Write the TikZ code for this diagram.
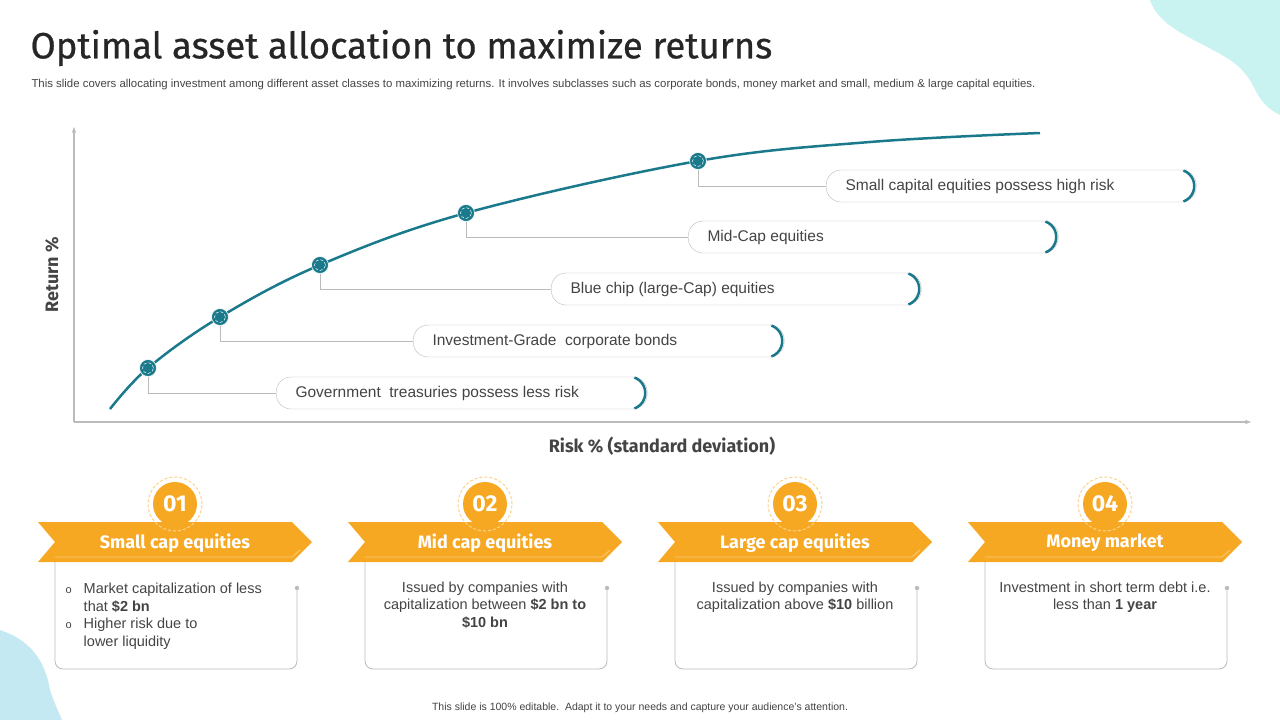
\documentclass[tikz,border=0pt]{standalone}
\usepackage{fontspec}
\setmainfont{Liberation Sans}
\newfontfamily\titlefont{Fira Sans}
\usetikzlibrary{arrows.meta}
\definecolor{teal}{HTML}{1A7A8C}
\definecolor{org}{HTML}{F7A823}
\definecolor{lorg}{HTML}{FBD38A}
\definecolor{gtxt}{HTML}{444444}
\definecolor{gline}{HTML}{BBBBBB}
\definecolor{blob1}{HTML}{C8F3F0}
\definecolor{blob2}{HTML}{C5E9F3}
\tikzset{
 pill/.style={draw=gline,rounded corners=15pt,minimum height=32pt,fill=white,inner sep=0pt},
 pilltxt/.style={font=\fontsize{15.5}{18}\selectfont,text=gtxt,anchor=west},
 conn/.style={draw=gline,line width=0.8pt},
 dot/.style={circle,fill=teal,minimum size=17pt,inner sep=0pt,draw=white,line width=0.6pt},
 cbox/.style={draw=gline,rounded corners=8pt,line width=0.8pt},
 btxt/.style={font=\fontsize{14.5}{17.5}\selectfont,text=gtxt,align=center},
 bannertxt/.style={font=\titlefont\bfseries\fontsize{18}{20}\selectfont,text=white},
}
\begin{document}
\begin{tikzpicture}[x=1pt,y=-1pt]
\useasboundingbox (0,0) rectangle (1280,720);
\fill[white] (0,0) rectangle (1280,720);
% blobs
\fill[blob1] (1150,0) .. controls (1160,30) and (1200,40) .. (1230,60) .. controls (1260,80) and (1250,100) .. (1280,115) -- (1280,0) -- cycle;
\fill[blob2] (0,630) .. controls (30,640) and (45,660) .. (50,690) .. controls (55,705) and (60,715) .. (62,720) -- (0,720) -- cycle;
% title
\node[anchor=west,font=\titlefont\fontsize{36.5}{40}\selectfont,text=black!85] (title) at (27,48) {\addfontfeature{FakeBold=0.6}Optimal asset allocation to maximize returns};
\node[anchor=west,font=\fontsize{11.4}{13}\selectfont,text=gtxt] (sub) at (28,85) {This slide covers allocating investment among different asset classes to maximizing returns. It involves subclasses such as corporate bonds, money market and small, medium \& large capital equities.};
% axes
\coordinate (o) at (74,422);
\coordinate (ytop) at (74,127);
\coordinate (xend) at (1251,422);
\draw[gline,line width=1.2pt,-{Stealth[length=6pt]}] (o) -- (ytop);
\draw[gline,line width=1.2pt,-{Stealth[length=6pt]}] (o) -- (xend);
\node[rotate=90,font=\titlefont\bfseries\fontsize{18}{20}\selectfont,text=gtxt] (ylab) at (52,275) {Return \%};
\node[font=\titlefont\bfseries\fontsize{18}{20}\selectfont,text=gtxt] (xlab) at (662,446) {Risk \% (standard deviation)};
% curve
\draw[teal,line width=2.5pt] plot[smooth,tension=0.6] coordinates {(110,409) (148,368) (220,317) (320,265) (466,213) (698,161) (870,142) (1040,133)};
% pills
\foreach \n/\xa/\xb/\yy/\t in {p1/276/647/393/{Government\ \ treasuries possess less risk},p2/413/784/341/{Investment-Grade\ \ corporate bonds},p3/551/921/289/{Blue chip (large-Cap) equities},p4/688/1058/237/{Mid-Cap equities},p5/826/1196/186/{Small capital equities possess high risk}}{
 \node[pill,minimum width={\xb-\xa},anchor=west] (\n) at (\xa,\yy) {};
 \draw[teal,line width=2.5pt] ([xshift=-13pt,yshift=15.5pt]\n.east) arc[start angle=70,end angle=-70,radius=16.5pt];
 \node[pilltxt] at ([xshift=16pt]\n.west) {\t};
}
% dots and connectors
\foreach \d/\x/\y/\p in {d1/148/368/p1,d2/220/317/p2,d3/320/265/p3,d4/466/213/p4,d5/698/161/p5}{
 \draw[conn] (\x,\y) |- (\p.west);
 \node[dot] (\d) at (\x,\y) {};
 \draw[white,densely dashed,line width=0.5pt] (\d) circle (5.5pt);
}
% bottom cards
\foreach \i/\num/\ttl in {0/01/Small cap equities,1/02/Mid cap equities,2/03/Large cap equities,3/04/Money market}{
 \begin{scope}[xshift=\i*310pt]
 \fill[org] (38,522) -- (292,522) -- (312,542) -- (292,562) -- (38,562) -- (55,542) -- cycle;
 \draw[white,opacity=0.4,line width=0.8pt] (55,557) -- (292,557) -- (300,550);
 \node[bannertxt] (bt\i) at (175,543) {\ttl};
 \draw[lorg,densely dashed,line width=1pt] (175,504) circle (27pt);
 \node[circle,fill=org,minimum size=44pt,inner sep=0pt,font=\titlefont\bfseries\fontsize{23}{25}\selectfont,text=white] (c\i) at (175,504) {\num};
 \draw[cbox] (55,562) -- (55,669) -- (297,669) -- (297,588);
 \fill[gline] (297,588) circle (2.2pt);
 \end{scope}
}
\node[btxt,align=left,anchor=north west] (t1) at (62,578) {\begin{tabular}{@{}l@{\ \ \ }l@{}}\fontsize{11}{10}\selectfont o & Market capitalization of less\\ & that \textbf{\$2 bn}\\ \fontsize{11}{10}\selectfont o & Higher risk due to\\ & lower liquidity\end{tabular}};
\node[btxt,anchor=north] (t2) at (485,578) {Issued by companies with\\capitalization between \textbf{\$2 bn to}\\\textbf{\$10 bn}};
\node[btxt,anchor=north] (t3) at (795,578) {Issued by companies with\\capitalization above \textbf{\$10} billion};
\node[btxt,anchor=north] (t4) at (1105,578) {Investment in short term debt i.e.\\less than \textbf{1 year}};
\node[font=\fontsize{10.5}{12}\selectfont,text=gtxt] (foot) at (640,708) {This slide is 100\% editable.\ \ Adapt it to your needs and capture your audience's attention.};
\end{tikzpicture}
\end{document}
